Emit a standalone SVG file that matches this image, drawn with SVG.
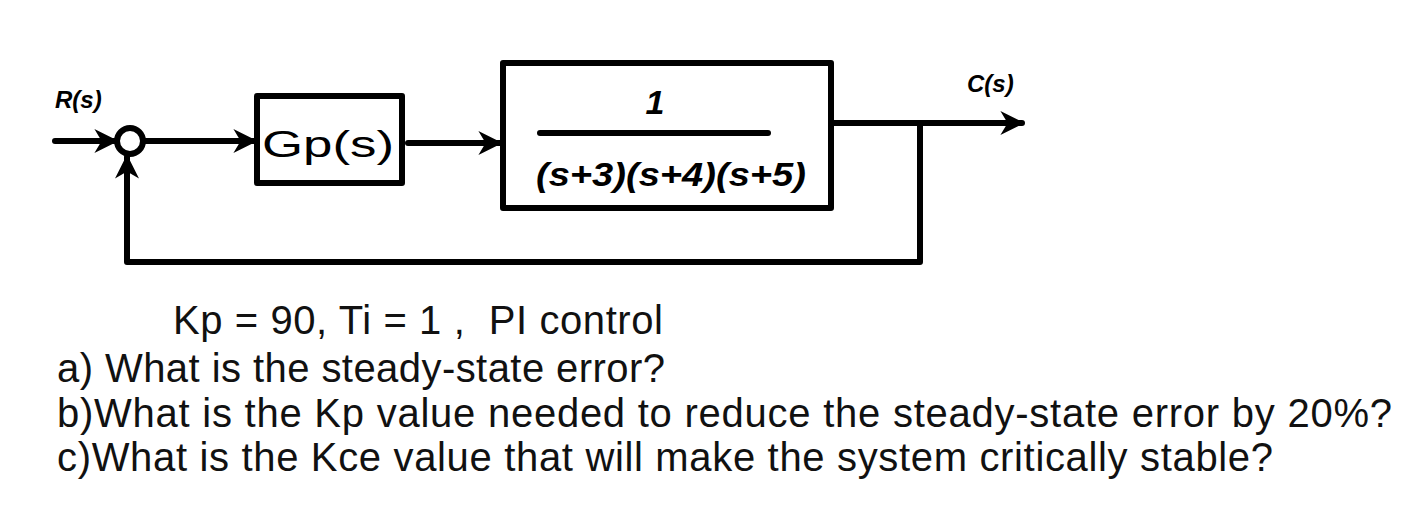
<svg xmlns="http://www.w3.org/2000/svg" width="1423" height="515" viewBox="0 0 1423 515">
<style>
.l{fill:none;stroke:#000;stroke-width:6;stroke-linecap:round;stroke-linejoin:round}
.h{font-family:"Liberation Sans",Arial,sans-serif;font-weight:bold;font-style:italic;fill:#000}
.t{font-family:"Liberation Sans",Arial,sans-serif;font-size:40px;fill:#111}
</style>
<defs>
<marker id="a" viewBox="0 0 10 10" refX="9" refY="5" markerWidth="4" markerHeight="4" orient="auto" markerUnits="strokeWidth">
<path d="M0,0 L10,5 L0,10 L3,5 Z" fill="#000"/>
</marker>
</defs>
<rect width="1423" height="515" fill="#fff"/>
<g id="connectors">
<line class="l" x1="55" y1="141" x2="116" y2="141" marker-end="url(#a)"/>
<line class="l" x1="145" y1="141" x2="255" y2="141" marker-end="url(#a)"/>
<line class="l" x1="408" y1="143" x2="500" y2="143" marker-end="url(#a)"/>
<line class="l" x1="834" y1="123" x2="1022" y2="123" marker-end="url(#a)"/>
<polyline class="l" points="920,123 920,262 127,262 127,157" marker-end="url(#a)"/>
</g>
<g id="sum"><circle class="l" cx="130" cy="141" r="13"/></g>
<g id="input"><text class="h" x="55" y="108" font-size="24">R(s)</text></g>
<g id="output"><text class="h" x="967" y="92" font-size="24">C(s)</text></g>
<g id="gp"><rect class="l" x="257" y="96" width="145" height="87"/>
<text x="262" y="157" font-family="Liberation Sans, Arial, sans-serif" font-size="36" textLength="132" lengthAdjust="spacingAndGlyphs">Gp(s)</text></g>
<g id="plant"><rect class="l" x="503" y="63" width="328" height="145"/>
<text class="h" x="655" y="114" font-size="34" text-anchor="middle">1</text>
<line class="l" x1="540" y1="133" x2="768" y2="133"/>
<text class="h" x="536" y="186" font-size="34" textLength="270" lengthAdjust="spacingAndGlyphs">(s+3)(s+4)(s+5)</text></g>
<g id="text">
<text class="t" x="173" y="334" textLength="490" xml:space="preserve">Kp = 90, Ti = 1 ,  PI control</text>
<text class="t" x="57" y="382" textLength="608">a) What is the steady-state error?</text>
<text class="t" x="57" y="427" textLength="1335">b)What is the Kp value needed to reduce the steady-state error by 20%?</text>
<text class="t" x="57" y="471" textLength="1216">c)What is the Kce value that will make the system critically stable?</text>
</g>
</svg>
